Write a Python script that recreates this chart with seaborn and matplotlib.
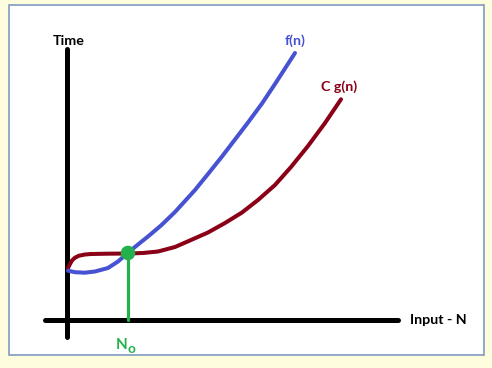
import matplotlib
matplotlib.use("Agg")
import matplotlib.pyplot as plt
import seaborn as sns
import pandas as pd
from matplotlib.patches import Rectangle

# ---- data (x = input N, y = time, arbitrary units) ----
f_x = [1, 8, 17.7, 28, 41, 51, 61, 71, 81, 94, 108, 118, 128, 141, 155, 168,
       181, 195, 208, 218, 228]
f_y = [49.3, 47.8, 47.3, 48.5, 52, 58.5, 67.3, 75.5, 83.5, 94.5, 108, 119,
       130, 146, 163.5, 180.5, 197.5, 216.5, 236, 251.5, 267]
g_x = [1, 3, 5, 8, 12, 18, 24, 40, 61, 76, 91, 108, 124, 141, 158, 175, 191,
       208, 224, 241, 258, 274]
g_y = [52, 56, 59.5, 62.3, 64.3, 65.5, 66, 66.3, 66.5, 67, 68.5, 73, 80, 87.5,
       97, 107.5, 120, 135, 153, 174, 197, 220.7]
n0_x = [61]
n0_y = [67]
xaxis_x = [-22, 331]
yaxis_y = [-17, 271]

labels = {"f": "f(n)", "g": "C g(n)", "x": "Input - N", "y": "Time"}

BLUE = "#4652d2"
RED = "#8a0016"
GREEN = "#22b14c"
BG = "#fefedf"

sns.set_style("white")
plt.rcParams["font.family"] = ["Lato", "DejaVu Sans"]

fig = plt.figure(figsize=(4.92, 3.68), dpi=100, facecolor=BG)

ax = fig.add_axes([0, 0, 1, 1])
ax.set_facecolor("none")
ax.axis("off")
# white framed panel
ax.add_patch(Rectangle((9 / 492, 1 - 355 / 368), 475 / 492, 350 / 368,
                       transform=fig.transFigure, facecolor="white",
                       edgecolor="#7f9bc0", linewidth=1.2, zorder=0))

# axes of the diagram
ax.plot(xaxis_x, [0, 0], color="black", lw=3.6, solid_capstyle="round", zorder=2)
ax.plot([0, 0], yaxis_y, color="black", lw=3.6, solid_capstyle="round", zorder=2)

df_f = pd.DataFrame({"x": f_x, "y": f_y})
df_g = pd.DataFrame({"x": g_x, "y": g_y})
sns.lineplot(data=df_g, x="x", y="y", sort=False, estimator=None, ax=ax,
             color=RED, lw=2.9, solid_capstyle="round", solid_joinstyle="round",
             zorder=3)
sns.lineplot(data=df_f, x="x", y="y", sort=False, estimator=None, ax=ax,
             color=BLUE, lw=2.9, solid_capstyle="round", solid_joinstyle="round",
             zorder=4)

# N0 marker and drop line
ax.plot([n0_x[0], n0_x[0]], [0, n0_y[0]], color=GREEN, lw=2.3, zorder=5)
sns.scatterplot(x=n0_x, y=n0_y, ax=ax, color=GREEN, s=110, edgecolor="none",
                zorder=6)
ax.set_xlim(-67, 425)
ax.set_ylim(-48, 320)
ax.set_xlabel("")
ax.set_ylabel("")

fs = 10.3
ax.text(2, 279, labels["y"], ha="center", va="center", fontsize=fs,
        fontweight="bold", color="black")
ax.text(343, 0, labels["x"], ha="left", va="center", fontsize=fs,
        fontweight="bold", color="black")
ax.text(228, 279, labels["f"], ha="center", va="center", fontsize=fs,
        fontweight="bold", color=BLUE)
ax.text(272, 233, labels["g"], ha="center", va="center", fontsize=fs,
        fontweight="bold", color=RED)
ax.text(n0_x[0] - 1, -25, "N", ha="right", va="center", fontsize=fs + 0.7,
        fontweight="bold", color=GREEN)
ax.text(n0_x[0] - 1, -29, "o", ha="left", va="center", fontsize=fs - 0.5,
        fontweight="bold", color=GREEN)

fig.savefig("out.png", dpi=100, facecolor=BG)
